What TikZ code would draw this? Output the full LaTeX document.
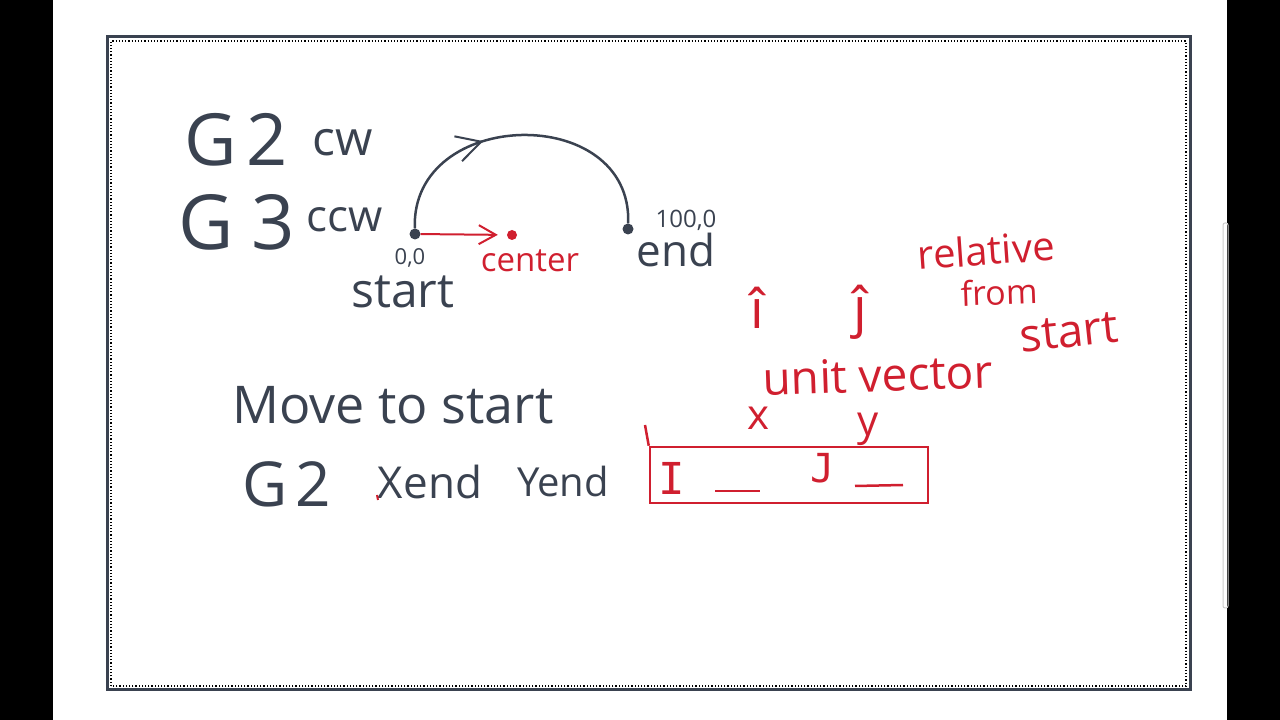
\documentclass[tikz,border=0pt]{standalone}
\usepackage{fontspec}
\setmainfont{Open Sans}
\newfontfamily\barfont{DejaVu Sans Mono}
\usepackage{tikz}
\usetikzlibrary{arrows.meta,decorations.markings}

\definecolor{inkgray}{RGB}{58,66,80}
\definecolor{redpen}{RGB}{208,31,47}
\newcommand{\handsize}[1]{\fontsize{#1}{#1}\selectfont}
\tikzset{
    arcbarb/.tip={Straight Barb[length=24pt, width=26pt, line width=2pt]},
    redbarb/.tip={Straight Barb[length=17pt, width=19pt, line width=2pt]}
}

\begin{document}
\begin{tikzpicture}[x=1pt, y=1pt, inner sep=0pt,
    ink/.style={text=inkgray},
    redink/.style={text=redpen},
    dot/.style={circle, fill=#1, minimum size=11pt}]
    \useasboundingbox (0,0) rectangle (1280,720);
    % Screen and page
    \fill[black] (0,0) rectangle (53,720);
    \fill[black] (1227,0) rectangle (1280,720);
    \draw[gray!40, line width=1pt, rounded corners=2pt] (1223,112) rectangle (1228,497);
    \draw[inkgray, line width=3pt] (107,30) rectangle (1190,683);
    \draw[black, line width=1.2pt, dotted] (111,34) rectangle (1186,679);

    % G codes
    \node[ink, font=\handsize{72}] (g2) at (236,580) {G\hspace{10pt}2};
    \node[ink, font=\handsize{48}] (cw) at (343,577) {cw};
    \node[ink, font=\handsize{76}] (g3) at (237,498) {G\hspace{18pt}3};
    \node[ink, font=\handsize{44}] (ccw) at (345,500) {ccw};

    % Arc from start to end
    \node[dot=inkgray] (start) at (415,486) {};
    \node[dot=inkgray] (end) at (628,491) {};
    \node[dot=redpen, minimum size=10pt] (ctr) at (512,485) {};
    \draw[inkgray, line width=2.5pt, postaction={decorate},
        decoration={markings, mark=at position 0.38 with {\arrow[inkgray]{arcbarb}}}]
        (start) to[out=92, in=88, looseness=1.45] (end);
    \draw[redpen, line width=2pt, shorten >=9pt, -redbarb] (start) -- (ctr);
    \node[ink, font=\handsize{22}] (zero) at (410,462) {0,0};
    \node[ink, font=\handsize{48}] (start-label) at (403,428) {start};
    \node[redink, font=\handsize{33}] (ctr-label) at (530,459) {center};
    \node[ink, font=\handsize{24}] (end-coord) at (686,500) {100,0};
    \node[ink, font=\handsize{44}] (end-label) at (676,470) {end};

    % Relative offsets
    \node[redink, font=\handsize{40}, rotate=4] (rel) at (986,470) {relative};
    \node[redink, font=\handsize{34}, rotate=2] (from) at (999,428) {from};
    \node[redink, font=\handsize{46}, rotate=6] (rel-start) at (1069,388) {start};
    \node[redink, font=\handsize{54}] (ihat) at (757,412) {î};
    \node[redink, font=\handsize{54}] (jhat) at (860,408) {ĵ};
    \node[redink, font=\handsize{46}, rotate=2] (unit) at (878,345) {unit vector};
    \node[redink, font=\handsize{42}] (xlbl) at (758,302) {x};
    \node[redink, font=\handsize{42}] (ylbl) at (868,291) {y};

    % Moves
    \node[ink, font=\handsize{52}] (move) at (393,315) {Move to start};
    \node[ink, font=\handsize{62}] (g2-move) at (287,236) {G\hspace{8pt}2};
    \node[ink, font=\handsize{44}] (xend) at (430,238) {Xend};
    \node[ink, font=\handsize{40}] (yend) at (563,238) {Yend};
    \draw[redpen, line width=2pt] (377,225) -- (378,220);

    % I and J box
    \node[draw=redpen, line width=2.5pt, minimum width=278pt, minimum height=56pt] (ij-box) at (789,245) {};
    \draw[redpen, line width=2.5pt] (645,295) -- (ij-box.north west);
    \node[redink, font={\barfont\handsize{44}}] (ilbl) at (672,242) {I};
    \node[redink, font={\barfont\handsize{40}}] (jlbl) at (823,252) {J};
    \draw[redpen, line width=2.5pt] (715,229) -- (760,229);
    \draw[redpen, line width=2.5pt] (855,234) -- (903,235);
\end{tikzpicture}
\end{document}
